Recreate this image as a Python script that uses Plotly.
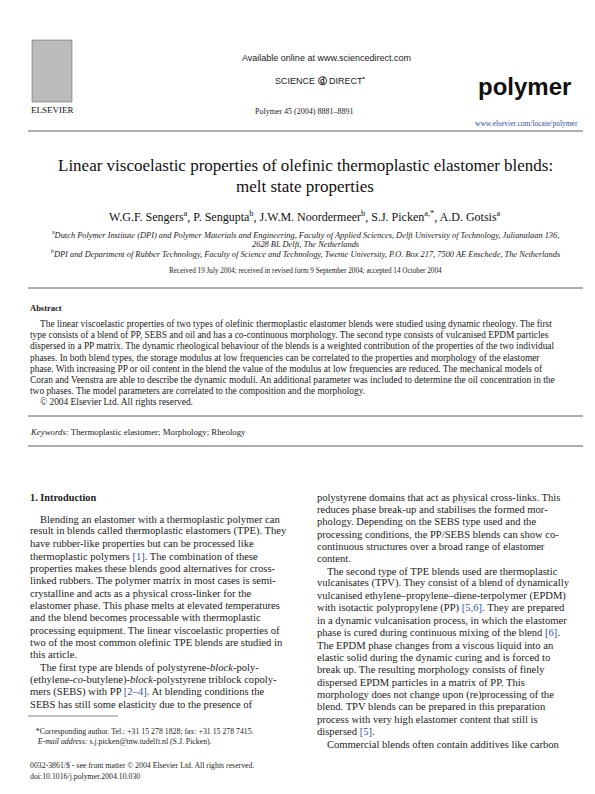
import plotly.graph_objects as go

B = "<span style='color:#3050a0'>%s</span>"
SERIF = "Liberation Serif"

header_items = [
    ("Available online at www.sciencedirect.com", 318, 50, 9, "center", "Liberation Sans", "#222"),
    ("SCIENCE <b>ⓓ</b> DIRECT<sup>•</sup>", 312, 72, 9, "center", "Liberation Sans", "#222"),
    ("Polymer 45 (2004) 8881–8891", 296, 103, 8, "center", SERIF, "#222"),
    ("<b>polymer</b>", 516, 78, 24, "center", "Liberation Sans", "#111"),
    ("www.elsevier.com/locate/polymer", 518, 115, 7.5, "center", SERIF, "#3050a0"),
    ("ELSEVIER", 44, 102, 9, "center", SERIF, "#111"),
]

title_lines = ["Linear viscoelastic properties of olefinic thermoplastic elastomer blends:",
               "melt state properties"]
title_y = [157, 178]

authors = "W.G.F. Sengers<sup>a</sup>, P. Sengupta<sup>b</sup>, J.W.M. Noordermeer<sup>b</sup>, S.J. Picken<sup>a,*</sup>, A.D. Gotsis<sup>a</sup>"
affil = ["<sup>a</sup><i>Dutch Polymer Institute (DPI) and Polymer Materials and Engineering, Faculty of Applied Sciences, Delft University of Technology, Julianalaan 136,</i>",
         "<i>2628 BL Delft, The Netherlands</i>",
         "<sup>b</sup><i>DPI and Department of Rubber Technology, Faculty of Science and Technology, Twente University, P.O. Box 217, 7500 AE Enschede, The Netherlands</i>"]
affil_y = [226, 236, 245]
received = "Received 19 July 2004; received in revised form 9 September 2004; accepted 14 October 2004"

abstract = [
    "The linear viscoelastic properties of two types of olefinic thermoplastic elastomer blends were studied using dynamic rheology. The first",
    "type consists of a blend of PP, SEBS and oil and has a co-continuous morphology. The second type consists of vulcanised EPDM particles",
    "dispersed in a PP matrix. The dynamic rheological behaviour of the blends is a weighted contribution of the properties of the two individual",
    "phases. In both blend types, the storage modulus at low frequencies can be correlated to the properties and morphology of the elastomer",
    "phase. With increasing PP or oil content in the blend the value of the modulus at low frequencies are reduced. The mechanical models of",
    "Coran and Veenstra are able to describe the dynamic moduli. An additional parameter was included to determine the oil concentration in the",
    "two phases. The model parameters are correlated to the composition and the morphology.",
    "© 2004 Elsevier Ltd. All rights reserved.",
]
abstract_y = [316, 327, 338, 350, 361, 372, 383, 394]

left_col = [
    "Blending an elastomer with a thermoplastic polymer can",
    "result in blends called thermoplastic elastomers (TPE). They",
    "have rubber-like properties but can be processed like",
    "thermoplastic polymers " + B % "[1]" + ". The combination of these",
    "properties makes these blends good alternatives for cross-",
    "linked rubbers. The polymer matrix in most cases is semi-",
    "crystalline and acts as a physical cross-linker for the",
    "elastomer phase. This phase melts at elevated temperatures",
    "and the blend becomes processable with thermoplastic",
    "processing equipment. The linear viscoelastic properties of",
    "two of the most common olefinic TPE blends are studied in",
    "this article.",
    "The first type are blends of polystyrene-<i>block</i>-poly-",
    "(ethylene-<i>co</i>-butylene)-<i>block</i>-polystyrene triblock copoly-",
    "mers (SEBS) with PP " + B % "[2–4]" + ". At blending conditions the",
    "SEBS has still some elasticity due to the presence of",
]
left_indent = [0, 12]
right_col = [
    "polystyrene domains that act as physical cross-links. This",
    "reduces phase break-up and stabilises the formed mor-",
    "phology. Depending on the SEBS type used and the",
    "processing conditions, the PP/SEBS blends can show co-",
    "continuous structures over a broad range of elastomer",
    "content.",
    "The second type of TPE blends used are thermoplastic",
    "vulcanisates (TPV). They consist of a blend of dynamically",
    "vulcanised ethylene–propylene–diene-terpolymer (EPDM)",
    "with isotactic polypropylene (PP) " + B % "[5,6]" + ". They are prepared",
    "in a dynamic vulcanisation process, in which the elastomer",
    "phase is cured during continuous mixing of the blend " + B % "[6]" + ".",
    "The EPDM phase changes from a viscous liquid into an",
    "elastic solid during the dynamic curing and is forced to",
    "break up. The resulting morphology consists of finely",
    "dispersed EPDM particles in a matrix of PP. This",
    "morphology does not change upon (re)processing of the",
    "blend. TPV blends can be prepared in this preparation",
    "process with very high elastomer content that still is",
    "dispersed " + B % "[5]" + ".",
    "Commercial blends often contain additives like carbon",
]
right_indent = [6, 20]

footnotes = ["   *Corresponding author. Tel.: +31 15 278 1828; fax: +31 15 278 7415.",
             "    <i>E-mail address:</i> s.j.picken@tnw.tudelft.nl (S.J. Picken)."]
footer = ["0032-3861/$ - see front matter © 2004 Elsevier Ltd. All rights reserved.",
          "doi:10.1016/j.polymer.2004.10.030"]

fig = go.Figure()
ann = []

def add(text, x, y, size, anchor="left", family=SERIF, color="#222"):
    ann.append(dict(text=text, x=x, y=y, xref="x", yref="y", showarrow=False,
                    xanchor=anchor, yanchor="middle",
                    font=dict(family=family, size=size, color=color)))

for t, x, y, s, a, f, c in header_items:
    add(t, x, y, s, a, f, c)
for t, y in zip(title_lines, title_y):
    add(t, 297, y, 17, "center", color="#111")
add(authors, 297, 208, 12, "center", color="#111")
for t, y in zip(affil, affil_y):
    add(t, 297, y, 8.4, "center")
add(received, 297, 263, 7.2, "center")
add("<b>Abstract</b>", 20, 300, 8.5)
for i, (t, y) in enumerate(zip(abstract, abstract_y)):
    add(t, 30 if i in (0, 7) else 20, y, 9.4)
add("<i>Keywords:</i> Thermoplastic elastomer; Morphology; Rheology", 20, 424, 8.8)
add("<b>1. Introduction</b>", 20, 489, 10.3)
for i, t in enumerate(left_col):
    add(t, 30 if i in left_indent else 20, 511 + i * 12.35, 10.6)
for i, t in enumerate(right_col):
    add(t, 317 if i in right_indent else 307, 489 + i * 12.35, 10.6)
for i, t in enumerate(footnotes):
    add(t, 20, 723 + i * 10, 7.8)
for i, t in enumerate(footer):
    add(t, 20, 757 + i * 11, 7.8)

shapes = []
for y in (123, 280, 408, 438):
    shapes.append(dict(type="line", x0=20, x1=575, y0=y, y1=y, xref="x", yref="y",
                       line=dict(color="#333", width=0.8)))
shapes.append(dict(type="line", x0=20, x1=110, y0=708, y1=708, xref="x", yref="y",
                   line=dict(color="#333", width=0.6)))
shapes.append(dict(type="rect", x0=24, x1=64, y0=32, y1=94, xref="x", yref="y",
                   line=dict(color="#555", width=0.5), fillcolor="#bbb"))

fig.update_layout(width=595, height=794, margin=dict(l=0, r=0, t=0, b=0),
                  paper_bgcolor="white", plot_bgcolor="white",
                  xaxis=dict(range=[0, 595], visible=False, fixedrange=True),
                  yaxis=dict(range=[794, 0], visible=False, fixedrange=True),
                  annotations=ann, shapes=shapes, showlegend=False)
fig.write_html("out.html")
